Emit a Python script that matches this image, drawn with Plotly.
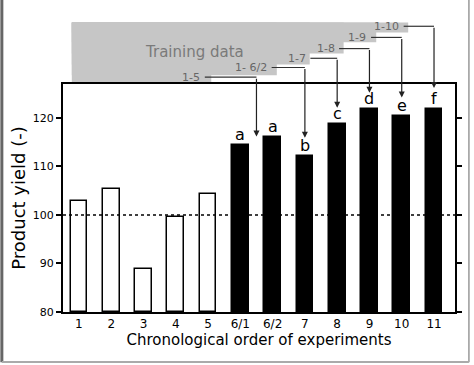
import plotly.graph_objects as go

# ---- data ----
categories = ["1", "2", "3", "4", "5", "6/1", "6/2", "7", "8", "9", "10", "11"]
yield_values = [102.9, 105.3, 88.9, 99.5, 104.4, 114.4, 116.1, 112.2, 118.8, 121.9, 120.4, 121.9]
is_training = [True, True, True, True, True, False, False, False, False, False, False, False]
group_letters = ["", "", "", "", "", "a", "a", "b", "c", "d", "e", "f"]
y_ticks = [80, 90, 100, 110, 120]

# training windows: label, target position, arrow tip (yield units), line level (yield units), label end, gray step edge
window_labels = ["1-5", "1- 6/2", "1-7", "1-8", "1-9", "1-10"]
window_targets = [6.5, 8, 9, 10, 11, 12]
window_tips = [116.2, 115.9, 122.1, 125.2, 124.2, 126.2]
window_levels = [128.4, 130.4, 132.3, 134.3, 136.6, 138.9]
window_label_end = [4.82, 6.89, 8.09, 8.98, 9.97, 10.98]
step_edges = [5.10, 7.13, 8.15, 9.20, 10.21, 11.20]
step_bounds = [127.0, 128.8, 131.0, 133.3, 135.6, 137.6, 139.7]
gray_left = 0.78

Y_RANGE = [80, 127]
X_RANGE = [0.507, 12.65]
REF_LINE = 100

positions = list(range(1, len(categories) + 1))
FONT = "DejaVu Sans"


def to_dom(v):
    return (v - Y_RANGE[0]) / (Y_RANGE[1] - Y_RANGE[0])


fig = go.Figure()
fig.add_trace(go.Bar(
    x=positions, y=[v - Y_RANGE[0] for v in yield_values], base=Y_RANGE[0],
    width=0.52,
    marker=dict(color=["white" if t else "black" for t in is_training],
                line=dict(color="black", width=1.5)),
    hoverinfo="skip",
))

shapes = []
# gray staircase for training data (each step reaches up to the top)
for i, edge in enumerate(step_edges):
    shapes.append(dict(type="rect", xref="x", yref="y domain",
                       x0=gray_left, x1=edge,
                       y0=to_dom(step_bounds[i]), y1=to_dom(step_bounds[-1]),
                       fillcolor="#c6c6c6", line=dict(width=0), layer="below"))

# reference dotted line
shapes.append(dict(type="line", xref="paper", yref="y", x0=0, x1=1, y0=REF_LINE, y1=REF_LINE,
                   line=dict(color="black", width=1.5, dash="dot")))

# horizontal connector lines
for lab_end, tgt, lvl in zip(window_label_end, window_targets, window_levels):
    shapes.append(dict(type="line", xref="x", yref="y domain",
                       x0=lab_end + 0.08, x1=tgt, y0=to_dom(lvl), y1=to_dom(lvl),
                       line=dict(color="#333333", width=1.2)))

# scanned page border
shapes.append(dict(type="line", xref="paper", yref="paper", x0=-0.156, x1=-0.156, y0=-0.22, y1=1.37,
                   line=dict(color="#666666", width=3)))
shapes.append(dict(type="line", xref="paper", yref="paper", x0=1.0355, x1=1.0355, y0=-0.22, y1=1.37,
                   line=dict(color="#999999", width=1.5)))
shapes.append(dict(type="line", xref="paper", yref="paper", x0=-0.156, x1=1.0355, y0=-0.219, y1=-0.219,
                   line=dict(color="#aaaaaa", width=2)))

annotations = []
for lab, lab_end, lvl, tgt, tip in zip(window_labels, window_label_end, window_levels, window_targets, window_tips):
    annotations.append(dict(text=lab, xref="x", yref="y domain", x=lab_end, y=to_dom(lvl),
                            xanchor="right", yanchor="middle", showarrow=False,
                            font=dict(family=FONT, size=11, color="#666666")))
    annotations.append(dict(text="", xref="x", yref="y", x=tgt, y=tip,
                            axref="x", ayref="y", ax=tgt, ay=lvl,
                            showarrow=True, arrowhead=2, arrowsize=1, arrowwidth=1.2,
                            arrowcolor="#222222"))

annotations.append(dict(text="Training data", xref="x", yref="y domain", x=4.57,
                        y=to_dom(133.6), xanchor="center", yanchor="middle", showarrow=False,
                        font=dict(family=FONT, size=15, color="#7a7a7a")))

for p, v, letter in zip(positions, yield_values, group_letters):
    if letter:
        annotations.append(dict(text=letter, xref="x", yref="y", x=p, y=v, yanchor="bottom",
                                showarrow=False, yshift=-1,
                                font=dict(family=FONT, size=16, color="black")))

fig.update_layout(
    width=474, height=365,
    margin=dict(l=63, r=17, t=84, b=53),
    paper_bgcolor="white", plot_bgcolor="white",
    showlegend=False,
    shapes=shapes, annotations=annotations,
    bargap=0,
    font=dict(family=FONT, color="black"),
)
fig.update_xaxes(range=X_RANGE, tickvals=positions, ticktext=categories,
                 showgrid=False, zeroline=False, ticks="",
                 showline=True, linecolor="black", linewidth=2, mirror=True,
                 tickfont=dict(family=FONT, size=12, color="black"),
                 title=dict(text="Chronological order of experiments",
                            font=dict(family=FONT, size=15, color="black"), standoff=4))
fig.update_yaxes(range=Y_RANGE, tickvals=y_ticks,
                 showgrid=False, zeroline=False, ticks="outside", ticklen=5, tickwidth=1.5,
                 tickcolor="black",
                 showline=True, linecolor="black", linewidth=2, mirror="ticks",
                 tickfont=dict(family=FONT, size=11, color="black"),
                 title=dict(text="Product yield (-)",
                            font=dict(family=FONT, size=18, color="black"), standoff=2))

fig.write_html("out.html", config={"displayModeBar": False},
               post_script="document.body.style.margin='0';document.body.style.padding='0';")
